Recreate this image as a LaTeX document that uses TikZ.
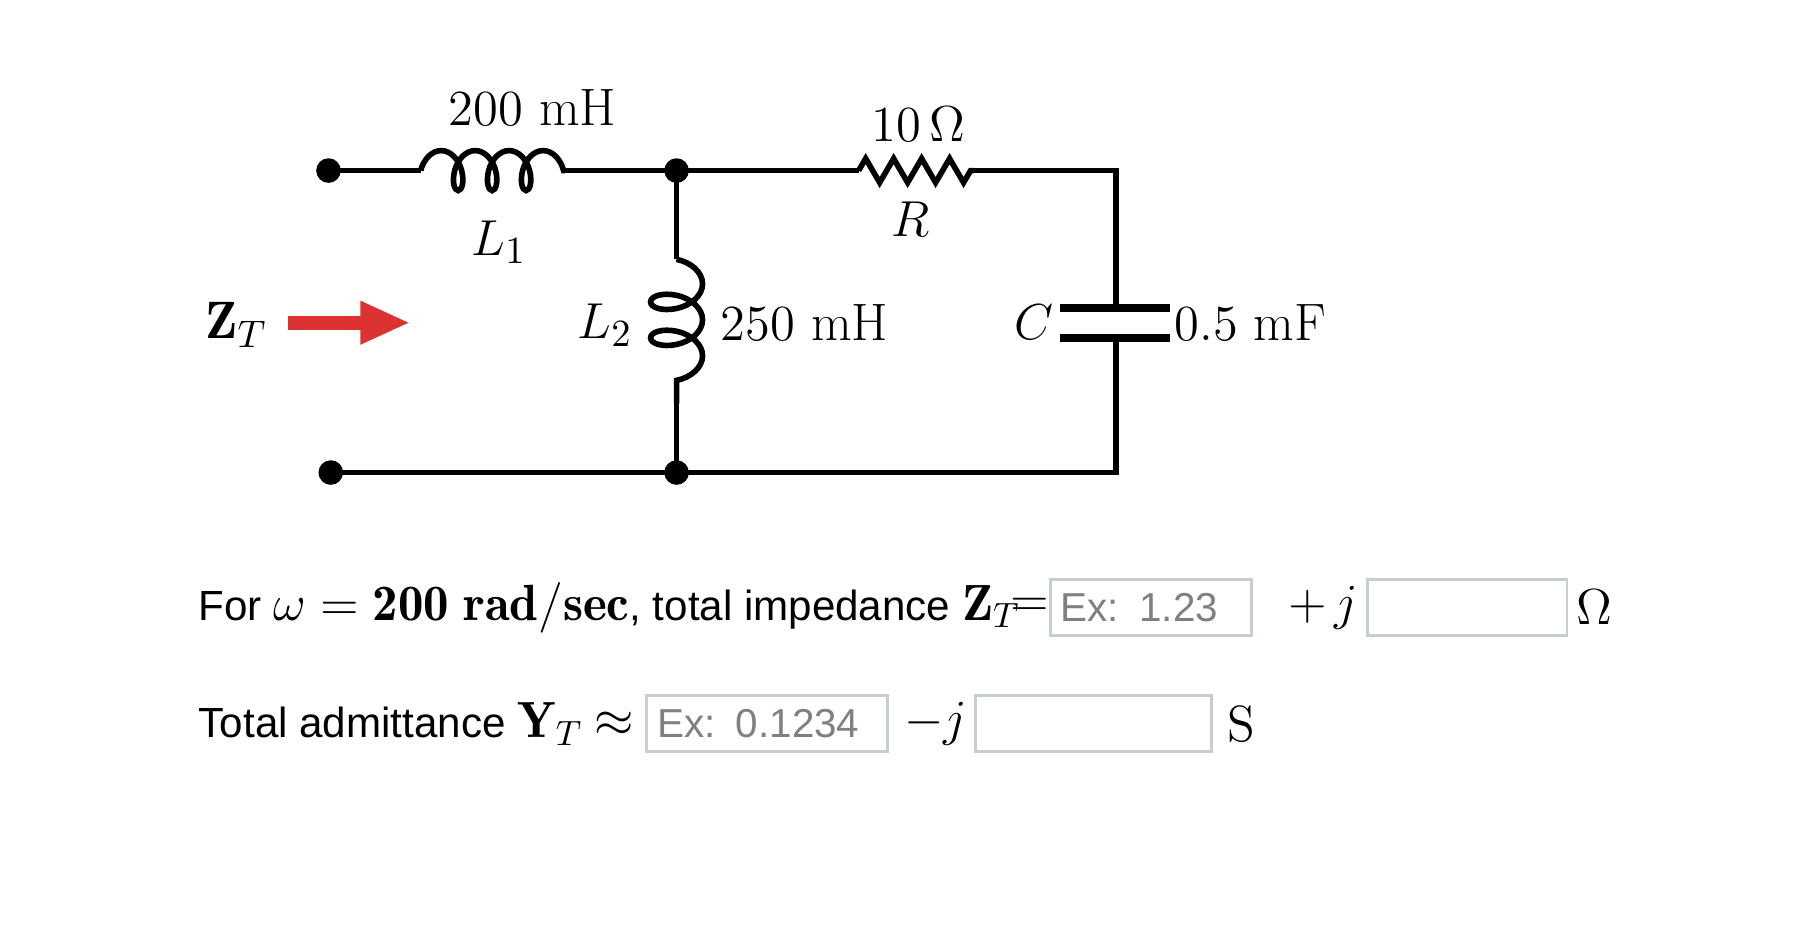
\documentclass[tikz,border=0pt]{standalone}
\usepackage{fontspec}
\usepackage{amsmath}
\setsansfont{Liberation Sans}
\usetikzlibrary{decorations.pathmorphing,arrows.meta}
\definecolor{arrowred}{RGB}{220,50,50}
\definecolor{boxgray}{RGB}{200,205,210}

\begin{document}
\begin{tikzpicture}[x=0.01154cm,y=-0.01154cm,line width=1.6pt,
    dot/.style={circle,fill,inner sep=0pt,minimum size=7pt},
    lbl/.style={font=\fontsize{15}{18}\selectfont},
    txt/.style={font=\sffamily\fontsize{12}{15}\selectfont,inner sep=0pt},
    mtxt/.style={font=\fontsize{14.5}{17}\selectfont,inner sep=0pt},
    box/.style={draw=boxgray,line width=0.8pt,minimum height=0.56cm,inner sep=2pt},
    exbox/.style={box,anchor=west,align=left,text=gray,inner xsep=3pt,font=\sffamily\fontsize{11.5}{14}\selectfont},
    coil/.style={decorate,decoration={coil,aspect=0.6,segment length=0.34cm,amplitude=0.2cm}},
    bigcoil/.style={decorate,decoration={coil,aspect=0.6,segment length=0.36cm,amplitude=0.26cm}},
    zig/.style={decorate,decoration={zigzag,segment length=0.28cm,amplitude=0.12cm}}]
    \useasboundingbox (0,0) rectangle (1560,816);

    % terminals and junctions
    \node[dot] (a) at (285,148) {};
    \node[dot] (b) at (287,410) {};
    \node[dot] (top) at (587,148) {};
    \node[dot] (bot) at (587,410) {};
    \coordinate (tr) at (968,148);
    \coordinate (br) at (968,410);
    \coordinate (l1a) at (365,148);
    \coordinate (l1b) at (490,148);
    \coordinate (ra) at (745,148);
    \coordinate (rb) at (845,148);
    \coordinate (l2a) at (587,225);
    \coordinate (l2b) at (587,350);
    \coordinate (ca) at (968,267);
    \coordinate (cb) at (968,293);

    % wires
    \draw (a.center) -- (l1a);
    \draw[coil] (l1a) -- (l1b);
    \draw (l1b) -- (top.center) -- (ra);
    \draw[zig] (ra) -- (rb);
    \draw (rb) -- (tr) -- (ca);
    \draw[line width=2.2pt] (920,267) -- (1015,267);
    \draw[line width=2.2pt] (920,293) -- (1015,293);
    \draw (cb) -- (br) -- (bot.center) -- (b.center);
    \draw (top.center) -- (l2a);
    \draw[bigcoil] (l2a) -- (l2b);
    \draw (l2b) -- (bot.center);

    % labels
    \node[lbl] at (462,93) {$200\ \mathrm{mH}$};
    \node[lbl] at (433,210) {$L_1$};
    \node[lbl] at (797,108) {$10\,\Omega$};
    \node[lbl] at (790,190) {$R$};
    \node[lbl] at (525,282) {$L_2$};
    \node[lbl] at (698,280) {$250\ \mathrm{mH}$};
    \node[lbl] at (897,280) {$C$};
    \node[lbl] at (1085,280) {$0.5\ \mathrm{mF}$};
    \node[lbl] at (205,282) {$\mathbf{Z}_T$};
    \coordinate (arrs) at (250,280);
    \coordinate (arre) at (356,280);
    \draw[arrowred,line width=4pt,-{Triangle[length=0.5cm,width=0.4cm]}] (arrs) -- (arre);

    % question lines
    \node[txt,anchor=west] (q1) at (170,527) {For {\fontsize{14.5}{17}\selectfont$\omega = \mathbf{200\ rad/sec}$}, total impedance {\fontsize{14.5}{17}\selectfont$\mathbf{Z}_T$}};
    \node[mtxt] (eq) at (893,527) {$=$};
    \node[exbox,text width=1.8cm] (z1) at (910,527) {Ex: 1.23};
    \node[mtxt] (pj) at (1148,527) {$+\,j$};
    \node[box,anchor=west,minimum width=2.0cm] (z2) at (1185,527) {};
    \node[mtxt] (om) at (1383,527) {$\Omega$};

    \node[txt,anchor=west] (q2) at (170,628) {Total admittance {\fontsize{14.5}{17}\selectfont$\mathbf{Y}_T$}};
    \node[mtxt] (ap) at (533,628) {$\approx$};
    \node[exbox,text width=2.2cm] (y1) at (560,628) {Ex: 0.1234};
    \node[mtxt] (mj) at (812,628) {$-j$};
    \node[box,anchor=west,minimum width=2.36cm] (y2) at (845,628) {};
    \node[mtxt] (si) at (1077,628) {$\mathrm{S}$};
\end{tikzpicture}
\end{document}
